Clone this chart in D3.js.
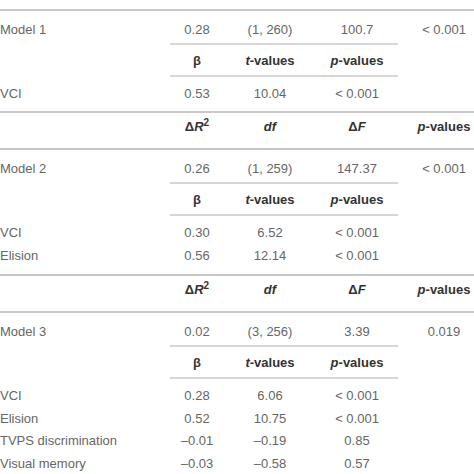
<!DOCTYPE html><html><head><meta charset="utf-8"><script src="https://cdn.jsdelivr.net/npm/d3@7"></script>
<style>body{margin:0;background:#fff}text{font-family:"Liberation Sans",Arial,sans-serif;font-size:13px}</style></head><body><svg id="c" width="474" height="474"></svg>
<script>
const modelHeader = ["ΔR²","df","ΔF","p-values"];
const predHeader = ["β","t-values","p-values"];
const models = ["Model 1","Model 2","Model 3"];
const modelStats = [["0.28","(1, 260)","100.7","< 0.001"],["0.26","(1, 259)","147.37","< 0.001"],["0.02","(3, 256)","3.39","0.019"]];
const predictors = [["VCI"],["VCI","Elision"],["VCI","Elision","TVPS discrimination","Visual memory"]];
const predStats = [[["0.53","10.04","< 0.001"]],[["0.30","6.52","< 0.001"],["0.56","12.14","< 0.001"]],
 [["0.28","6.06","< 0.001"],["0.52","10.75","< 0.001"],["–0.01","–0.19","0.85"],["–0.03","–0.58","0.57"]]];

const svg=d3.select("#c");
const x=d3.scaleOrdinal().domain([0,1,2,3]).range([197,270,357,444]);
const lineX=[170,398];
const modelTop=[10,149,312];
function hline(y,full){svg.append("line").attr("x1",full?0:lineX[0]).attr("x2",full?474:lineX[1]).attr("y1",y).attr("y2",y).attr("stroke","#c8c8c8").attr("stroke-width",full?2:1.5);}
function txt(s,xx,y,anchor,bold,ital){const t=svg.append("text").attr("x",xx).attr("y",y).attr("text-anchor",anchor).attr("fill",bold?"#333":"#666").attr("font-weight",bold?"bold":null);
 if(ital){t.append("tspan").attr("font-style","italic").text(s[0]);t.append("tspan").text(s.slice(1));}else t.text(s);return t;}
function header(y){modelHeader.forEach((h,i)=>{
  if(i==0){const t=txt("Δ",x(i),y,"middle",true);t.append("tspan").attr("font-style","italic").text("R");t.append("tspan").attr("dy",-5).attr("font-size",10).text("2");}
  else if(i==1){txt("df",x(i),y,"middle",true).attr("font-style","italic");}
  else if(i==2){const t=txt("Δ",x(i),y,"middle",true);t.append("tspan").attr("font-style","italic").text("F");}
  else txt(h,x(i),y,"middle",true,true);});}
hline(10,true);
models.forEach((m,k)=>{
  const t0=modelTop[k];
  if(k>0){header(t0-18);hline(t0,true);}
  const y0=t0+24;
  txt(m,0,y0,"start");
  modelStats[k].forEach((v,i)=>txt(v,x(i),y0,"middle"));
  hline(t0+34,false);
  predHeader.forEach((h,i)=>txt(h,x(i),t0+55,"middle",true,i>0));
  hline(t0+66,false);
  predictors[k].forEach((p,j)=>{const y=t0+88+j*22.5;txt(p,0,y,"start");predStats[k][j].forEach((v,i)=>txt(v,x(i),y,"middle"));});
  if(k<2) hline(modelTop[k+1]-37,true);
});
</script></body></html>
